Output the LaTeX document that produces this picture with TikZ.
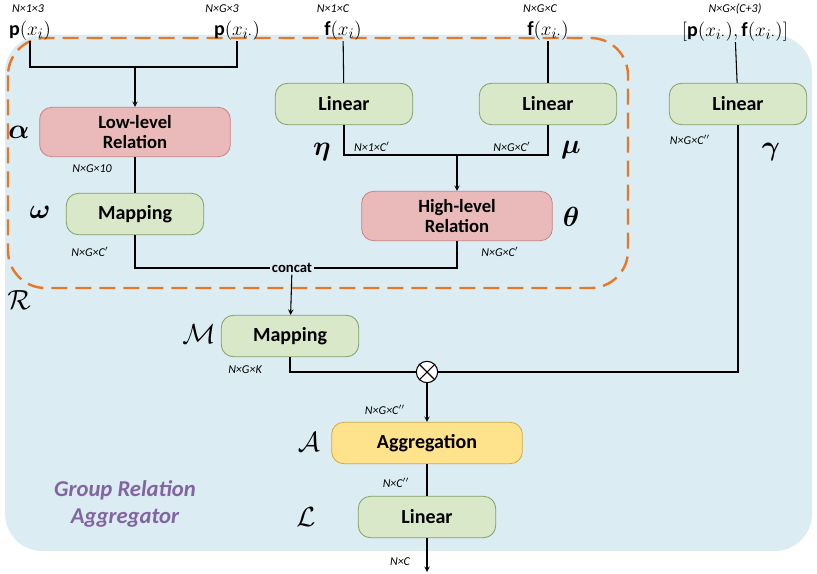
\documentclass[tikz,border=0pt]{standalone}
\usepackage{fontspec}
\setmainfont{Carlito}
\usepackage{amsmath}
\usetikzlibrary{arrows,shapes,positioning}
\definecolor{bgblue}{RGB}{219,236,243}
\definecolor{grnfill}{RGB}{217,232,200}
\definecolor{grndraw}{RGB}{130,160,100}
\definecolor{pnkfill}{RGB}{234,186,186}
\definecolor{pnkdraw}{RGB}{200,130,130}
\definecolor{ylwfill}{RGB}{255,226,140}
\definecolor{ylwdraw}{RGB}{210,170,60}
\definecolor{orng}{RGB}{232,120,40}
\definecolor{purp}{RGB}{130,100,160}
\tikzstyle{blk} = [rectangle, draw, rounded corners=9pt, line width=0.6pt,
    text centered, font=\fontsize{15}{16}\selectfont\bfseries, inner sep=0pt]
\tikzstyle{grn} = [blk, fill=grnfill, draw=grndraw, minimum width=103pt, minimum height=31pt]
\tikzstyle{pnk} = [blk, fill=pnkfill, draw=pnkdraw, minimum width=143pt, minimum height=37pt,
    text width=140pt, font=\fontsize{14}{15}\selectfont\bfseries]
\tikzstyle{ylw} = [blk, fill=ylwfill, draw=ylwdraw, minimum width=143pt, minimum height=31pt]
\tikzstyle{dim} = [inner sep=0pt, font=\fontsize{9}{10}\selectfont\itshape]
\tikzstyle{sym} = [inner sep=0pt, font=\fontsize{22}{24}\selectfont]
\tikzstyle{inp} = [inner sep=0pt, font=\fontsize{15}{16}\selectfont]
\newcommand{\bx}[1]{\mathbf{#1}}

\begin{document}
\begin{tikzpicture}[x=0.75pt,y=-0.75pt,>=stealth,line width=0.8pt]
  \useasboundingbox (0,0) rectangle (817,574);
  \fill[bgblue,rounded corners=28pt] (5,35) rectangle (812,551);
  \draw[orng,dashed,line width=1.8pt,dash pattern=on 12pt off 6pt,rounded corners=28pt]
    (8,38) rectangle (628,288);

  % inputs
  \node[dim] (d1) at (28,9) {N×1×3};
  \node[inp] (px) at (30,31) {$\bx{p}(x_i)$};
  \node[dim] (d2) at (222,9) {N×G×3};
  \node[inp] (pg) at (237,31) {$\bx{p}(x_{i\cdot})$};
  \node[dim] (d3) at (333,9) {N×1×C};
  \node[inp] (fx) at (343,31) {$\bx{f}(x_i)$};
  \node[dim] (d4) at (540,9) {N×G×C};
  \node[inp] (fg) at (548,31) {$\bx{f}(x_{i\cdot})$};
  \node[dim] (d5) at (735,9) {N×G×(C+3)};
  \node[inp] (pf) at (735,32) {$[\bx{p}(x_{i\cdot}),\bx{f}(x_{i\cdot})]$};

  % blocks
  \node[pnk] (low) at (135,132) {Low-level\\Relation};
  \node[grn] (map1) at (135,214) {Mapping};
  \node[grn] (lin1) at (344,104) {Linear};
  \node[grn] (lin2) at (548,104) {Linear};
  \node[pnk] (high) at (457,216) {High-level\\Relation};
  \node[grn] (lin3) at (738,104) {Linear};
  \node[inner sep=1pt,font=\fontsize{11}{12}\selectfont\bfseries] (cat) at (292,268) {concat};
  \node[grn] (map2) at (290,336) {Mapping};
  \node[circle,draw,fill=white,inner sep=0pt,minimum size=16pt] (otimes) at (427,372) {};
  \draw (otimes.north west) -- (otimes.south east) (otimes.north east) -- (otimes.south west);
  \node[ylw] (agg) at (427,443) {Aggregation};
  \node[grn] (lin4) at (427,517) {Linear};
  \coordinate (out) at (427,572);

  % symbols
  \node[sym] (sa) at (19,132) {$\boldsymbol{\alpha}$};
  \node[sym] (sw) at (40,212) {$\boldsymbol{\omega}$};
  \node[sym] (se) at (322,152) {$\boldsymbol{\eta}$};
  \node[sym] (sm) at (571,150) {$\boldsymbol{\mu}$};
  \node[sym] (st) at (571,217) {$\boldsymbol{\theta}$};
  \node[sym] (sg) at (771,152) {$\boldsymbol{\gamma}$};
  \node[sym] (sr) at (19,300) {$\mathcal{R}$};
  \node[sym] (sM) at (199,334) {$\mathcal{M}$};
  \node[sym] (sA) at (309,442) {$\mathcal{A}$};
  \node[sym] (sL) at (306,517) {$\mathcal{L}$};

  % sizes
  \node[dim] at (92,169) {N×G×10};
  \node[dim] at (90,252) {N×G×C$'$};
  \node[dim] at (372,147) {N×1×C$'$};
  \node[dim] at (512,147) {N×G×C$'$};
  \node[dim] at (500,252) {N×G×C$'$};
  \node[dim] at (690,140) {N×G×C$''$};
  \node[dim] at (245,370) {N×G×K};
  \node[dim] at (385,410) {N×G×C$''$};
  \node[dim] at (396,483) {N×C$''$};
  \node[dim] at (400,562) {N×C};

  \node[purp,align=center,font=\fontsize{17}{20}\selectfont\bfseries\itshape] (name) at (125,504)
    {Group Relation\\Aggregator};

  % connectors
  \draw (px) |- (135,67);
  \draw (pg) |- (135,67);
  \draw[->] (135,67) -- (low);
  \draw (low) -- (map1);
  \draw (fx) -- (lin1);
  \draw (fg) -- (lin2);
  \draw (lin1) |- (457,155);
  \draw (lin2) |- (457,155);
  \draw[->] (457,155) -- (high);
  \draw (map1) |- (cat);
  \draw (high) |- (cat);
  \draw[->] (cat) -- (map2);
  \draw (map2) |- (otimes);
  \draw (pf) -- (lin3);
  \draw (lin3) |- (otimes);
  \draw[->] (otimes) -- (agg);
  \draw (agg) -- (lin4);
  \draw[->] (lin4) -- (out);
\end{tikzpicture}
\end{document}
